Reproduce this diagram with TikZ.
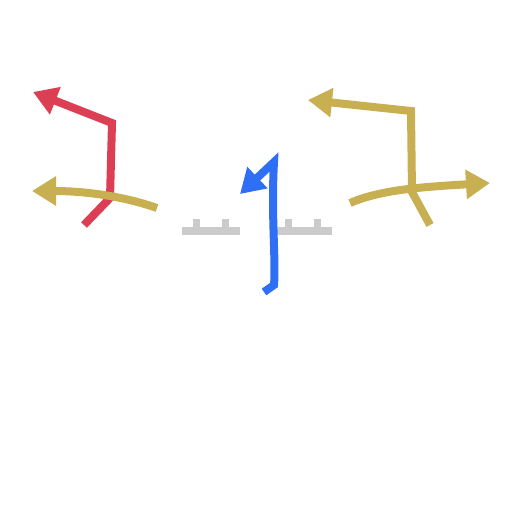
\documentclass[tikz,border=0pt]{standalone}
\usetikzlibrary{arrows.meta}
\definecolor{cred}{HTML}{DC3F54}
\definecolor{cgold}{HTML}{C8B052}
\definecolor{cblue}{HTML}{2F6FF5}
\definecolor{cgray}{HTML}{CBCBCB}
\begin{document}
\begin{tikzpicture}[x=1pt,y=-1pt,
  lane/.style={line width=8pt,line join=miter,-{Triangle[length=24pt,width=28pt]}},
  padbox/.style={fill=cgray,draw=none}]
\useasboundingbox (0,0) rectangle (512,512);
% gray stop markers
\foreach \x in {182,211,274,303}{
  \fill[cgray] (\x,227) rectangle ++(29,8);
  \fill[cgray] (\x+11,219) rectangle ++(7,9);
}
% left
\coordinate (r0) at (84,225);
\coordinate (r1) at (110,198);
\coordinate (r2) at (112,123);
\coordinate (r3) at (33,92);
\draw[lane,cred] (r0) -- (r1) -- (r2) -- (r3);
\coordinate (g0) at (157,208);
\coordinate (g1) at (32,191);
\draw[lane,cgold] (g0) .. controls (120,195) and (80,191) .. (g1);
% center blue
\coordinate (b0) at (264,292);
\coordinate (b1) at (274,285);
\coordinate (b2) at (274,162);
\coordinate (b3) at (240,194);
\draw[lane,cblue] (b0) -- (b1) .. controls (276,260) and (271,215) .. (b2) -- (b3);
% right
\coordinate (s0) at (430,225);
\coordinate (s1) at (412,192);
\coordinate (s2) at (411,111);
\coordinate (s3) at (308,100);
\draw[lane,cgold] (s0) -- (s1) -- (s2) -- (s3);
\coordinate (t0) at (350,203);
\coordinate (t1) at (490,183);
\draw[lane,cgold] (t0) .. controls (380,190) and (420,187) .. (t1);
\end{tikzpicture}
\end{document}
